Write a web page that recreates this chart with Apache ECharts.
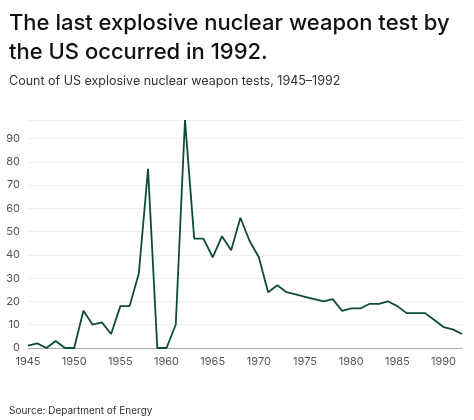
<!DOCTYPE html>
<html>
<head>
<meta charset="utf-8">
<script src="https://cdn.jsdelivr.net/npm/echarts@6/dist/echarts.min.js"></script>
<style>
  body { margin: 0; background: #fff; }
  #chart { width: 474px; height: 420px; }
</style>
</head>
<body>
<div id="chart"></div>
<script>
var years = [];
for (var y = 1945; y <= 1992; y++) years.push(y);
var tests = [1, 2, 0, 3, 0, 0, 16, 10, 11, 6, 18, 18, 32, 77, 0, 0, 10, 98, 47, 47,
  39, 48, 42, 56, 46, 39, 24, 27, 24, 23, 22, 21, 20, 21, 16, 17, 17, 19, 19, 20,
  18, 15, 15, 15, 12, 9, 8, 6];

var chart = echarts.init(document.getElementById('chart'));
chart.setOption({
  animation: false,
  textStyle: { fontFamily: 'Inter' },
  title: [
    {
      text: 'The last explosive nuclear weapon test by\nthe US occurred in 1992.',
      left: 4, top: 4,
      textStyle: { fontSize: 22, fontWeight: 500, color: '#111', lineHeight: 29, fontFamily: 'Inter' }
    },
    {
      text: 'Count of US explosive nuclear weapon tests, 1945–1992',
      left: 4, top: 70,
      textStyle: { fontSize: 12.5, fontWeight: 'normal', color: '#333', fontFamily: 'Inter' }
    },
    {
      text: 'Source: Department of Energy',
      left: 4, top: 401,
      textStyle: { fontSize: 10, fontWeight: 'normal', color: '#333', fontFamily: 'Inter' }
    }
  ],
  grid: { left: 28, right: 12, top: 120, bottom: 72 },
  xAxis: {
    type: 'value',
    min: 1945, max: 1992, interval: 5,
    axisLine: { lineStyle: { color: '#aaa' } },
    axisTick: { show: false },
    splitLine: { show: false },
    axisLabel: {
      color: '#555', fontSize: 11, showMaxLabel: false,
      formatter: function (v) { return String(v); }
    }
  },
  yAxis: {
    type: 'value',
    min: 0, max: 98, interval: 10,
    axisLine: { show: false },
    axisTick: { show: false },
    splitLine: { lineStyle: { color: '#f0f0f0' } },
    axisLabel: { color: '#555', fontSize: 11, margin: 8, showMaxLabel: false }
  },
  series: [{
    type: 'line',
    data: years.map(function (yr, i) { return [yr, tests[i]]; }),
    showSymbol: false,
    lineStyle: { color: '#0f4a3a', width: 1.8 }
  }]
});
</script>
</body>
</html>
